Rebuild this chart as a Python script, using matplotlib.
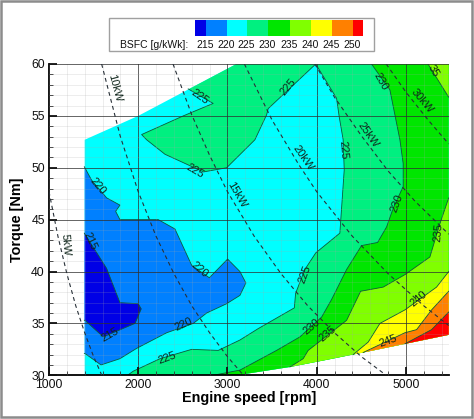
import matplotlib
matplotlib.use("Agg")
import matplotlib.pyplot as plt
from matplotlib.patches import Polygon, Rectangle
from matplotlib.ticker import MultipleLocator

plt.rcParams['font.family'] = ['Liberation Sans', 'DejaVu Sans']

# map outline (speed rpm, torque Nm)
domain_speed = [1400, 1400, 2000, 3100, 5480, 5480, 4522, 4118, 3700, 3327, 3140, 3050]
domain_torque = [30, 52.7, 55, 60, 60, 33.9, 32.2, 31.5, 30.8, 30.3, 30.05, 30]

# contour lines
c215_speed = [1396, 1646, 1795, 2000, 2034, 1964, 1608, 1403, 1396]
c215_torque = [43.7, 40.3, 37, 36.9, 36.4, 35, 33.7, 35.3, 35.3]
c220_speed = [1396, 1478, 1646, 1795, 1747, 1795, 2225, 2412, 2599, 2797, 3002, 3140, 3207, 3140, 2991, 2767, 2617, 2319, 1983, 1795, 1583, 1403, 1396]
c220_torque = [50.1, 48.8, 47.1, 46.4, 45.8, 45, 45, 44.1, 40.6, 39.4, 41.2, 40, 38.9, 37.7, 36.9, 36, 35, 34.1, 32.6, 31.6, 31, 32.1, 32.1]
c225a_speed = [2560, 2840, 2505, 2038, 2094, 2300, 2732, 2991, 3308, 3439, 3457, 3990]
c225a_torque = [57.6, 56.2, 55, 53.2, 52.7, 51.3, 49.6, 50, 52.7, 55.1, 55.7, 60]
c225b_speed = [3990, 4223, 4253, 4297, 4309, 4260, 3990, 3868, 3764, 3750, 3345, 3140, 2897, 2599, 2244, 1945, 1880]
c225b_torque = [60, 56.7, 54.9, 52.7, 49.8, 43.7, 41.8, 40.2, 37.9, 36.5, 34.5, 33.4, 32.4, 32.5, 31.6, 30.4, 30]
c230_speed = [4615, 4821, 4877, 4933, 4970, 4970, 4858, 4784, 4683, 4503, 4336, 4167, 4055, 3812, 3551, 3140, 2840]
c230_torque = [60, 57.5, 55.1, 52.7, 50.4, 48.2, 46.1, 44.3, 42.8, 42.5, 40.2, 37.3, 35.6, 33.7, 32.4, 30.5, 30]
c235a_speed = [5248, 5480]
c235a_torque = [60, 56.8]
c235b_speed = [5480, 5381, 5269, 4989, 4746, 4493, 4336, 4055, 3905, 3849, 3700]
c235b_torque = [47.1, 44.6, 41.4, 39.7, 38.5, 38.1, 35.3, 33.4, 32.4, 31.6, 30.8]
c240_speed = [5480, 5344, 4989, 4709, 4578, 4410]
c240_torque = [40, 38.5, 36.3, 35, 33.2, 32]
c245_speed = [5480, 5288, 5120, 4989, 4522]
c245_torque = [38.1, 36.3, 34.4, 34.1, 32.2]
c250_speed = [5480, 5288, 4989]
c250_torque = [36.1, 34.4, 33.03]

# constant power lines
p5_speed = [1000, 1100, 1200, 1300, 1400, 1500, 1592]
p5_torque = [47.7, 43.4, 39.8, 36.7, 34.1, 31.8, 30]
p10_speed = [1590, 1800, 2000, 2200, 2400, 2600, 2800, 3000, 3180]
p10_torque = [60, 53, 47.7, 43.4, 39.8, 36.7, 34.1, 31.8, 30]
p15_speed = [2390, 2600, 2800, 3000, 3300, 3600, 3900, 4200, 4500, 4780]
p15_torque = [60, 55.1, 51.2, 47.7, 43.4, 39.8, 36.7, 34.1, 31.8, 30]
p20_speed = [3190, 3500, 3800, 4000, 4400, 4800, 5200, 5480]
p20_torque = [60, 54.6, 50.3, 47.7, 43.4, 39.8, 36.7, 34.8]
p25_speed = [3980, 4200, 4500, 4800, 5100, 5480]
p25_torque = [60, 56.8, 53.1, 49.7, 46.8, 43.6]
p30_speed = [4780, 5000, 5250, 5480]
p30_torque = [60, 57.3, 54.6, 52.3]

legend_levels = ['215', '220', '225', '230', '235', '240', '245', '250']
band_colors = ['#0000e6', '#0080ff', '#00ffff', '#00f080', '#00e600', '#80ff00', '#ffff00', '#ff8000', '#ff0000']

contour_labels = [
    ('225', 2692, 56.8, -35), ('225', 3678, 57.8, 50), ('230', 4720, 58.3, -60),
    ('35', 5303, 59.3, -60), ('225', 2636, 49.7, -30), ('220', 1549, 48.2, -50),
    ('215', 1459, 42.9, -65), ('220', 2692, 40.2, -40), ('220', 2513, 34.9, 25),
    ('215', 1683, 33.9, 30), ('225', 2322, 31.7, 20), ('225', 4294, 51.7, -85),
    ('230', 4899, 46.6, 70), ('235', 5359, 43.8, 85), ('225', 3868, 39.7, 70),
    ('240', 5146, 37.4, 40), ('230', 3947, 34.7, 40), ('235', 4126, 34, 40),
    ('245', 4798, 33.3, 20),
]
power_labels = [
    ('5kW', 1190, 42.6, -85), ('10kW', 1739, 57.7, -75), ('15kW', 3106, 47.4, -60),
    ('20kW', 3846, 50.9, -55), ('25kW', 4574, 53.2, -55), ('30kW', 5179, 56.4, -50),
]

W, H = 474, 419
fig = plt.figure(figsize=(W / 100, H / 100), dpi=100)
ax = fig.add_axes([49 / W, (H - 375.3) / H, 399.7 / W, 311.3 / H])
ax.set_xlim(1000, 5480)
ax.set_ylim(30, 60)

outline = Polygon(list(zip(domain_speed, domain_torque)), closed=True, fc=band_colors[2], ec='none', zorder=1)
ax.add_patch(outline)

def band(speed, torque, close_speed, close_torque, color):
    # fill one band, far corners get cut by the map outline
    xs = list(speed) + close_speed
    ys = list(torque) + close_torque
    for p in ax.fill(xs, ys, color=color, lw=0, zorder=1.5):
        p.set_clip_path(outline)

band(c225a_speed, c225a_torque, [3990, 2300], [62, 62], band_colors[3])
band(c225b_speed, c225b_torque, [1880, 5700, 5700, 3990], [28, 28, 62, 62], band_colors[3])
band(c220_speed, c220_torque, [1300, 1300], [32.1, 50.1], band_colors[1])
band(c215_speed, c215_torque, [1300, 1300], [35.3, 43.7], band_colors[0])
band(c230_speed, c230_torque, [2840, 5700, 5700, 4615], [28, 28, 62, 62], band_colors[4])
band(c235a_speed, c235a_torque, [5700, 5700], [56.8, 62], band_colors[5])
band(c235b_speed, c235b_torque, [3700, 5700, 5700], [28, 28, 47.1], band_colors[5])
band(c240_speed, c240_torque, [4410, 5700, 5700], [28, 28, 40], band_colors[6])
band(c245_speed, c245_torque, [4522, 5700, 5700], [28, 28, 38.1], band_colors[7])
band(c250_speed, c250_torque, [4989, 5700, 5700], [28, 28, 36.1], band_colors[8])

contours = [(c215_speed, c215_torque), (c220_speed, c220_torque), (c225a_speed, c225a_torque),
            (c225b_speed, c225b_torque), (c230_speed, c230_torque), (c235a_speed, c235a_torque),
            (c235b_speed, c235b_torque), (c240_speed, c240_torque), (c245_speed, c245_torque),
            (c250_speed, c250_torque)]
for xs, ys in contours:
    ax.plot(xs, ys, color='#0b5a3a', lw=0.6, zorder=2)

ax.xaxis.set_major_locator(MultipleLocator(1000))
ax.xaxis.set_minor_locator(MultipleLocator(200))
ax.yaxis.set_major_locator(MultipleLocator(5))
ax.yaxis.set_minor_locator(MultipleLocator(1))
ax.set_axisbelow(False)
ax.grid(which='minor', color='#a8a8a8', lw=0.4, alpha=0.35, zorder=2.2)
ax.grid(which='major', color='#303030', lw=0.7, alpha=0.75, zorder=2.4)

for xs, ys in [(p5_speed, p5_torque), (p10_speed, p10_torque), (p15_speed, p15_torque),
               (p20_speed, p20_torque), (p25_speed, p25_torque), (p30_speed, p30_torque)]:
    ax.plot(xs, ys, color='#283038', lw=0.8, ls=(0, (3.5, 3)), zorder=3)

for txt, x, y, rot in contour_labels + power_labels:
    ax.text(x, y, txt, fontsize=8, color='#10261c', rotation=rot, rotation_mode='anchor',
            ha='center', va='center', zorder=4)

for s in ['top', 'right']:
    ax.spines[s].set_visible(False)
for s in ['left', 'bottom']:
    ax.spines[s].set_linewidth(1.3)
ax.tick_params(which='major', direction='in', length=6, width=1.3, labelsize=8.8, colors='#111111', pad=3)
ax.tick_params(which='minor', direction='in', length=3, width=0.6, color='#333333')
ax.set_xlabel('Engine speed [rpm]', fontsize=10.4, fontweight='bold', labelpad=0)
ax.set_ylabel('Torque [Nm]', fontsize=10.4, fontweight='bold', labelpad=5)

# legend box, drawn in pixel coords of the figure
def px(x, y):
    return x / W, 1 - y / H

fig.add_artist(Rectangle(px(109, 51), 265 / W, 33 / H, transform=fig.transFigure, fc='white', ec='#a0a0a0', lw=1))
edges = [194.7, 206, 226.7, 247.3, 268.3, 290, 310.7, 331.7, 352.7, 363.3]
for i, c in enumerate(band_colors):
    fig.add_artist(Rectangle(px(edges[i], 36), (edges[i + 1] - edges[i]) / W, 15.5 / H,
                             transform=fig.transFigure, fc=c, ec='none'))
for i, lab in enumerate(legend_levels):
    lx, ly = px(edges[i + 1] - 1, 45)
    fig.text(lx, ly, lab, fontsize=7.5, ha='center', va='center', color='#111111')
lx, ly = px(188, 45)
fig.text(lx, ly, 'BSFC [g/kWk]:', fontsize=7.5, ha='right', va='center', color='#111111')

# grey picture frame
fig.add_artist(Rectangle(px(1.2, 417), 470.6 / W, 415.5 / H, transform=fig.transFigure,
                         fc='none', ec='#8c8c8c', lw=1.8))

fig.savefig('out.png', dpi=100)
